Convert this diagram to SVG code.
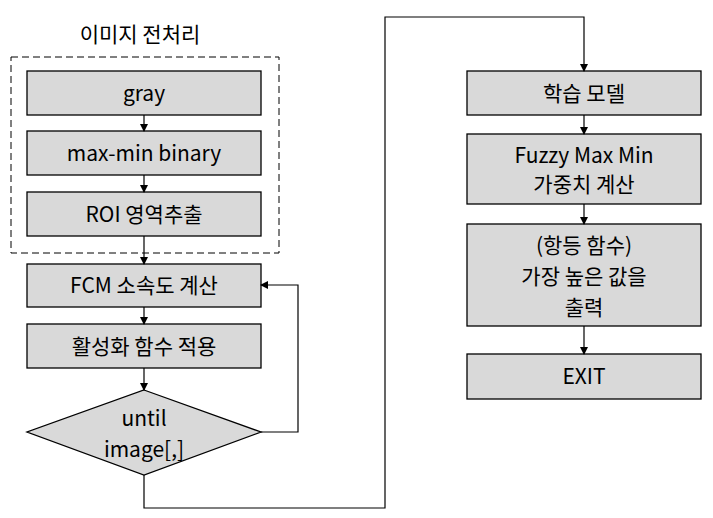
<svg xmlns="http://www.w3.org/2000/svg" width="713" height="518" viewBox="0 0 713 518">
<style>
.b{fill:#d9d9d9;stroke:#000;stroke-width:1.3}
.t{font-family:"Noto Sans CJK KR","Noto Sans",sans-serif;font-size:21px;text-anchor:middle;fill:#000}
.c{fill:none;stroke:#000;stroke-width:1.2}
</style>
<defs><marker id="a" markerWidth="8" markerHeight="8" refX="7" refY="4" orient="auto" markerUnits="userSpaceOnUse"><path d="M0,0L8,4L0,8z" fill="#000"/></marker></defs>
<rect width="713" height="518" fill="#fff"/>
<g id="pre"><rect x="11" y="57" width="268" height="196" fill="none" stroke="#000" stroke-dasharray="7,4"/><text class="t" x="140" y="42">이미지 전처리</text></g>
<g id="n1"><rect class="b" x="27" y="71" width="234" height="44"/><text class="t" x="144" y="101">gray</text></g>
<g id="n2"><rect class="b" x="27" y="131" width="234" height="44"/><text class="t" x="144" y="161">max-min binary</text></g>
<g id="n3"><rect class="b" x="27" y="192" width="234" height="44"/><text class="t" x="144" y="222">ROI 영역추출</text></g>
<g id="n4"><rect class="b" x="27" y="264" width="234" height="43"/><text class="t" x="144" y="293">FCM 소속도 계산</text></g>
<g id="n5"><rect class="b" x="27" y="324" width="234" height="44"/><text class="t" x="144" y="354">활성화 함수 적용</text></g>
<g id="n6"><polygon class="b" points="144,390 261,432 144,475 27,432"/><text class="t" x="144" y="426">until</text><text class="t" x="144" y="457">image[,]</text></g>
<g id="n7"><rect class="b" x="467" y="71" width="234" height="44"/><text class="t" x="584" y="101">학습 모델</text></g>
<g id="n8"><rect class="b" x="467" y="134" width="234" height="70"/><text class="t" x="584" y="163">Fuzzy Max Min</text><text class="t" x="584" y="192">가중치 계산</text></g>
<g id="n9"><rect class="b" x="467" y="224" width="234" height="102"/><text class="t" x="584" y="253">(항등 함수)</text><text class="t" x="584" y="284">가장 높은 값을</text><text class="t" x="584" y="315">출력</text></g>
<g id="n10"><rect class="b" x="467" y="354" width="234" height="45"/><text class="t" x="584" y="384">EXIT</text></g>
<g id="conn">
<path class="c" d="M144,115V131" marker-end="url(#a)"/>
<path class="c" d="M144,175V192" marker-end="url(#a)"/>
<path class="c" d="M144,236V264" marker-end="url(#a)"/>
<path class="c" d="M144,307V324" marker-end="url(#a)"/>
<path class="c" d="M144,368V390" marker-end="url(#a)"/>
<path class="c" d="M261,432H298V285H261" marker-end="url(#a)"/>
<path class="c" d="M144,475V508H385V17H584V71" marker-end="url(#a)"/>
<path class="c" d="M584,115V134" marker-end="url(#a)"/>
<path class="c" d="M584,204V224" marker-end="url(#a)"/>
<path class="c" d="M584,326V354" marker-end="url(#a)"/>
</g>
</svg>
